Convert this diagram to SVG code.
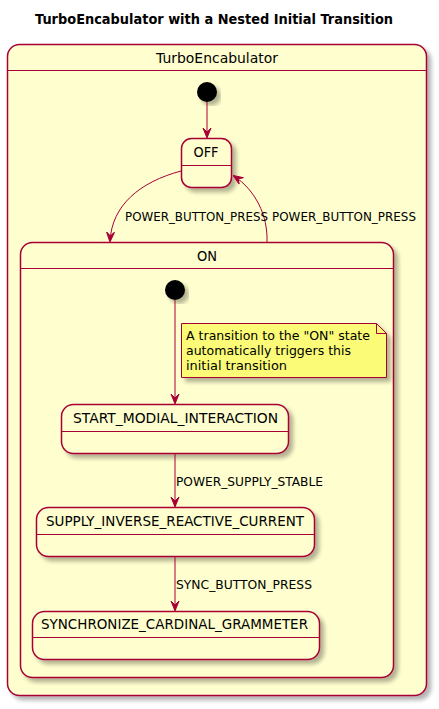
<svg xmlns="http://www.w3.org/2000/svg" width="439" height="709" viewBox="0 0 439 709">
<style>
.st{fill:#FEFECE;stroke:#A80036;stroke-width:1.5}
.ln{stroke:#A80036;stroke-width:1}
.cn{fill:none;stroke:#A80036;stroke-width:1}
.t{font-family:"DejaVu Sans","Liberation Sans",sans-serif;font-size:14px;fill:#000}
.lb{font-family:"DejaVu Sans","Liberation Sans",sans-serif;font-size:13px;fill:#000}
.title{font-family:"DejaVu Sans","Liberation Sans",sans-serif;font-size:14px;font-weight:bold;fill:#000}
</style>
<defs>
<filter id="sh" x="-10%" y="-10%" width="130%" height="130%">
<feGaussianBlur in="SourceAlpha" stdDeviation="2"/>
<feOffset dx="4" dy="4" result="b"/>
<feComponentTransfer><feFuncA type="linear" slope="0.3"/></feComponentTransfer>
<feMerge><feMergeNode/><feMergeNode in="SourceGraphic"/></feMerge>
</filter>
<marker id="ah" viewBox="0 0 10 10" refX="9" refY="5" markerWidth="10" markerHeight="10" markerUnits="userSpaceOnUse" orient="auto">
<path d="M0,1 L10,5 L0,9 L4,5 Z" fill="#A80036" stroke="#A80036" stroke-width="1"/>
</marker>
</defs>
<rect width="439" height="709" fill="#FFFFFF"/>
<text class="title" x="214" y="24" text-anchor="middle" textLength="358" lengthAdjust="spacingAndGlyphs">TurboEncabulator with a Nested Initial Transition</text>

<g id="TurboEncabulator">
<rect class="st" x="7.5" y="44.5" width="419" height="651" rx="12" filter="url(#sh)"/>
<line class="ln" x1="7.5" y1="70.5" x2="426.5" y2="70.5"/>
<text class="t" x="217" y="63" text-anchor="middle" textLength="122" lengthAdjust="spacingAndGlyphs">TurboEncabulator</text>
</g>

<g id="init_outer">
<circle cx="207" cy="92" r="10" fill="#000" filter="url(#sh)"/>
</g>

<g id="OFF">
<rect class="st" x="181.5" y="138.5" width="50" height="49" rx="10" filter="url(#sh)"/>
<line class="ln" x1="181.5" y1="165.5" x2="231.5" y2="165.5"/>
<text class="t" x="206" y="157" text-anchor="middle" textLength="25" lengthAdjust="spacingAndGlyphs">OFF</text>
</g>

<g id="ON">
<rect class="st" x="20.5" y="242.5" width="373" height="435" rx="12" filter="url(#sh)"/>
<line class="ln" x1="20.5" y1="268.5" x2="393.5" y2="268.5"/>
<text class="t" x="207" y="261" text-anchor="middle" textLength="20" lengthAdjust="spacingAndGlyphs">ON</text>
</g>

<g id="init_inner">
<circle cx="175" cy="290" r="10" fill="#000" filter="url(#sh)"/>
</g>

<g id="note">
<path d="M181.5,323.5 L376.5,323.5 L386.5,333.5 L386.5,377.5 L181.5,377.5 Z" fill="#FBFB77" stroke="#A80036" stroke-width="1" filter="url(#sh)"/>
<path d="M376.5,323.5 L376.5,333.5 L386.5,333.5" fill="none" stroke="#A80036" stroke-width="1"/>
<text class="lb" x="186" y="340" textLength="184" lengthAdjust="spacingAndGlyphs">A transition to the "ON" state</text>
<text class="lb" x="186" y="355" textLength="165" lengthAdjust="spacingAndGlyphs">automatically triggers this</text>
<text class="lb" x="186" y="370" textLength="101" lengthAdjust="spacingAndGlyphs">initial transition</text>
</g>

<g id="START_MODIAL_INTERACTION">
<rect class="st" x="61.5" y="404.5" width="227" height="49" rx="12" filter="url(#sh)"/>
<line class="ln" x1="61.5" y1="431.5" x2="288.5" y2="431.5"/>
<text class="t" x="73" y="423" textLength="205" lengthAdjust="spacingAndGlyphs">START_MODIAL_INTERACTION</text>
</g>

<g id="SUPPLY_INVERSE_REACTIVE_CURRENT">
<rect class="st" x="36.5" y="507.5" width="278" height="49" rx="12" filter="url(#sh)"/>
<line class="ln" x1="36.5" y1="534.5" x2="314.5" y2="534.5"/>
<text class="t" x="46" y="526" textLength="258" lengthAdjust="spacingAndGlyphs">SUPPLY_INVERSE_REACTIVE_CURRENT</text>
</g>

<g id="SYNCHRONIZE_CARDINAL_GRAMMETER">
<rect class="st" x="32.5" y="611.5" width="287" height="48" rx="12" filter="url(#sh)"/>
<line class="ln" x1="32.5" y1="637.5" x2="319.5" y2="637.5"/>
<text class="t" x="41" y="629" textLength="267" lengthAdjust="spacingAndGlyphs">SYNCHRONIZE_CARDINAL_GRAMMETER</text>
</g>

<g id="connectors">
<path class="cn" d="M207,102 L207,137" marker-end="url(#ah)"/>
<path class="cn" d="M181,171 C140,182 112,205 110,241" marker-end="url(#ah)"/>
<path class="cn" d="M267,242 C268,215 255,190 234,176" marker-end="url(#ah)"/>
<path class="cn" d="M175,300 L175,403" marker-end="url(#ah)"/>
<path class="cn" d="M175,454 L175,506" marker-end="url(#ah)"/>
<path class="cn" d="M175,557 L175,610" marker-end="url(#ah)"/>
<text class="lb" x="125" y="221" textLength="143" lengthAdjust="spacingAndGlyphs">POWER_BUTTON_PRESS</text>
<text class="lb" x="272" y="221" textLength="144" lengthAdjust="spacingAndGlyphs">POWER_BUTTON_PRESS</text>
<text class="lb" x="176" y="486" textLength="147" lengthAdjust="spacingAndGlyphs">POWER_SUPPLY_STABLE</text>
<text class="lb" x="176" y="589" textLength="136" lengthAdjust="spacingAndGlyphs">SYNC_BUTTON_PRESS</text>
</g>
</svg>
